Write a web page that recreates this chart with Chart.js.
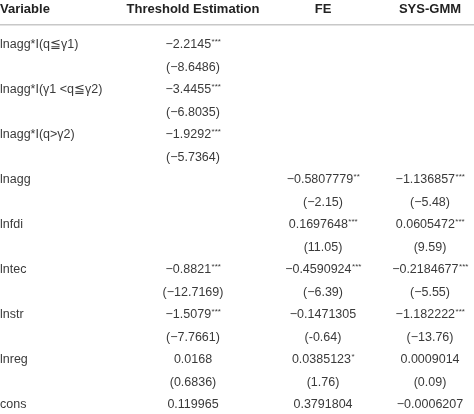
<!DOCTYPE html>
<html>
<head>
<meta charset="utf-8">
<script src="https://cdn.jsdelivr.net/npm/chart.js@4"></script>
<style>
  body { margin: 0; background: #fff; }
</style>
</head>
<body>
<canvas id="tbl" width="474" height="414"></canvas>
<script>
const headers = ['Variable', 'Threshold Estimation', 'FE', 'SYS-GMM'];
const variables = ['lnagg*I(q≦γ1)', '', 'lnagg*I(γ1 <q≦γ2)', '', 'lnagg*I(q>γ2)', '', 'lnagg', '', 'lnfdi', '', 'lntec', '', 'lnstr', '', 'lnreg', '', 'cons'];
const threshold = ['−2.2145***', '(−8.6486)', '−3.4455***', '(−6.8035)', '−1.9292***', '(−5.7364)', '', '', '', '',
  '−0.8821***', '(−12.7169)', '−1.5079***', '(−7.7661)', '0.0168', '(0.6836)', '0.119965'];
const fe = ['', '', '', '', '', '', '−0.5807779**', '(−2.15)', '0.1697648***', '(11.05)',
  '−0.4590924***', '(−6.39)', '−0.1471305', '(-0.64)', '0.0385123*', '(1.76)', '0.3791804'];
const gmm = ['', '', '', '', '', '', '−1.136857***', '(−5.48)', '0.0605472***', '(9.59)',
  '−0.2184677***', '(−5.55)', '−1.182222***', '(−13.76)', '0.0009014', '(0.09)', '−0.0006207'];

const colX = [0, 193, 323, 430];
const headerRow = -1.6;
const ruleRow = -0.9;
const font = '"Liberation Sans", Arial, sans-serif';

function cellPoints(col, values) {
  return values.map((t, i) => ({ x: colX[col], y: i, t }));
}

const tablePlugin = {
  id: 'tableText',
  afterDatasetsDraw(chart) {
    const { ctx, scales: { x, y } } = chart;
    ctx.save();
    ctx.textBaseline = 'middle';
    // header
    ctx.fillStyle = '#222';
    ctx.font = 'bold 13px ' + font;
    headers.forEach((h, c) => {
      ctx.textAlign = c === 0 ? 'left' : 'center';
      ctx.fillText(h, x.getPixelForValue(colX[c]), y.getPixelForValue(headerRow));
    });
    // body cells
    chart.data.datasets.forEach((ds) => {
      if (!ds.cells) return;
      ds.data.forEach((p) => {
        if (!p.t) return;
        const px = x.getPixelForValue(p.x);
        const py = y.getPixelForValue(p.y);
        ctx.fillStyle = '#3a3a3a';
        if (ds.left) {
          ctx.font = '12.5px ' + font;
          ctx.textAlign = 'left';
          ctx.fillText(p.t, px, py);
          return;
        }
        const m = p.t.match(/^(.*?)(\**)$/);
        const main = m[1];
        const stars = m[2];
        ctx.font = '12.5px ' + font;
        const wMain = ctx.measureText(main).width;
        ctx.font = '8px ' + font;
        const wStars = ctx.measureText(stars).width;
        const left = px - (wMain + wStars) / 2;
        ctx.textAlign = 'left';
        ctx.font = '12.5px ' + font;
        ctx.fillText(main, left, py);
        if (stars) {
          ctx.font = '8px ' + font;
          ctx.fillText(stars, left + wMain + 0.5, py - 3);
        }
      });
    });
    ctx.restore();
  },
};

new Chart(document.getElementById('tbl'), {
  type: 'scatter',
  data: {
    datasets: [
      { data: [{ x: 0, y: ruleRow }, { x: 474, y: ruleRow }], showLine: true, borderColor: '#c8c8c8', borderWidth: 1.5, pointRadius: 0 },
      { data: cellPoints(0, variables), cells: true, left: true, pointRadius: 0 },
      { data: cellPoints(1, threshold), cells: true, pointRadius: 0 },
      { data: cellPoints(2, fe), cells: true, pointRadius: 0 },
      { data: cellPoints(3, gmm), cells: true, pointRadius: 0 },
    ],
  },
  options: {
    responsive: false,
    animation: false,
    layout: { padding: 0 },
    plugins: { legend: { display: false }, tooltip: { enabled: false } },
    scales: {
      x: { type: 'linear', min: 0, max: 474, display: false },
      y: { type: 'linear', min: -2, max: 16.4, reverse: true, display: false },
    },
  },
  plugins: [tablePlugin],
});
</script>
</body>
</html>
